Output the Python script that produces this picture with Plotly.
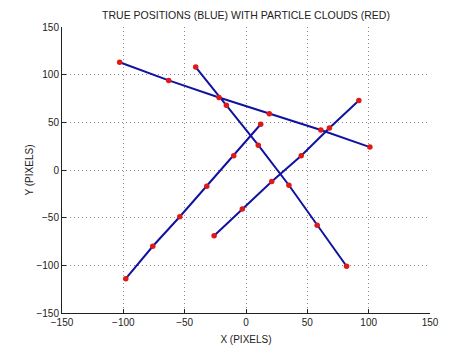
import plotly.graph_objects as go

# Four tracks: true positions (blue line) with particle cloud estimates (red dots)
track1_x = [-103, -63, -22, 19, 61, 101]
track1_y = [113, 94, 76, 59, 42, 24]
track2_x = [-41, -16, 10, 35, 58, 82]
track2_y = [108, 68, 26, -16, -58, -101]
track3_x = [-98, -76, -54, -32, -10, 12]
track3_y = [-114, -80, -49, -17, 15, 48]
track4_x = [-26, -3, 21, 45, 68, 92]
track4_y = [-69, -41, -12, 15, 44, 73]

tracks = [(track1_x, track1_y), (track2_x, track2_y),
          (track3_x, track3_y), (track4_x, track4_y)]

x_ticks = [-150, -100, -50, 0, 50, 100, 150]
y_ticks = [-150, -100, -50, 0, 50, 100, 150]

fig = go.Figure()
for tx, ty in tracks:
    fig.add_trace(go.Scatter(x=tx, y=ty, mode="lines",
                             line=dict(color="#1212a0", width=2),
                             showlegend=False, hoverinfo="skip"))
for tx, ty in tracks:
    fig.add_trace(go.Scatter(x=tx, y=ty, mode="markers",
                             marker=dict(color="#e01818", size=5.5),
                             showlegend=False))

font = dict(family="Liberation Sans, Arial, sans-serif", size=10, color="#222")
axis_common = dict(
    showline=True, linecolor="#222", linewidth=1, mirror=False,
    ticks="inside", ticklen=4, tickcolor="#222",
    showgrid=True, gridcolor="#8a8a8a", griddash="1px,3px", gridwidth=1,
    zeroline=False, tickfont=font,
)
fig.update_layout(
    width=474, height=355,
    margin=dict(l=62, r=44, t=27, b=40),
    paper_bgcolor="white", plot_bgcolor="white",
    font=font,
    title=dict(text="TRUE POSITIONS (BLUE) WITH PARTICLE CLOUDS (RED)",
               x=0.519, xanchor="center", y=1 - 15 / 355, yanchor="middle",
               yref="container", font=dict(family=font["family"], size=10.5, color="#222")),
    xaxis=dict(range=[-150, 150], tickvals=x_ticks, **axis_common,
               title=dict(text="X (PIXELS)", standoff=8, font=font)),
    yaxis=dict(range=[-150, 150], tickvals=y_ticks, **axis_common,
               title=dict(text="Y (PIXELS)", standoff=0, font=font)),
)
fig.write_html("out.html")
